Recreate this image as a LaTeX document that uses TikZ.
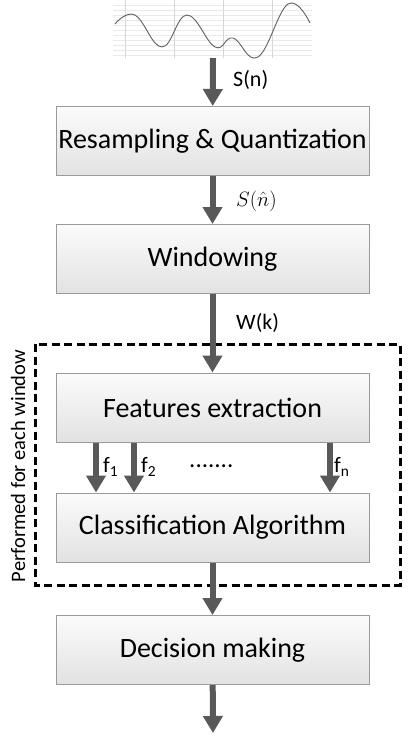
\documentclass[tikz,border=0pt]{standalone}
\usepackage{fontspec}
\setmainfont{Carlito}
\usetikzlibrary{arrows.meta,calc}
\definecolor{flowgray}{HTML}{595959}
\definecolor{boxline}{HTML}{9A9A9A}
\definecolor{boxtop}{HTML}{FBFBFB}
\definecolor{boxbottom}{HTML}{E2E2E2}
\definecolor{gridline}{HTML}{EAEAEA}
\definecolor{gridmajor}{HTML}{D6D6D6}
\definecolor{wave}{HTML}{606060}

\begin{document}
\begin{tikzpicture}[
  x=1pt,
  y=-1pt,
  stage/.style={draw=boxline, line width=1pt, top color=boxtop, bottom color=boxbottom,
    minimum width=313pt, minimum height=69pt, inner sep=0pt,
    font=\fontsize{28}{30}\selectfont},
  flow/.style={draw=flowgray, line width=6pt, -{Triangle[width=19pt,length=17pt]}},
  signal/.style={font=\fontsize{22}{24}\selectfont, anchor=west, inner sep=0pt},
  loopbox/.style={draw=black, line width=3pt, dash pattern=on 8pt off 4.5pt}
]
  \useasboundingbox (0,0) rectangle (408,756);

  % Input signal sketch.
  \foreach \gy in {5,10,...,55}
    \draw[gridline, line width=0.6pt] (113,\gy) -- (312,\gy);
  \foreach \gx in {125,174,223,272}
    \draw[gridmajor, line width=0.8pt] (\gx,0) -- (\gx,58);
  \draw[wave, line width=0.9pt] plot[smooth, tension=0.7] coordinates
    {(115,24) (135,15) (162,47) (187,15) (215,47) (233,38) (258,57) (288,4) (310,23)};
  \coordinate (sig) at (213,58);

  % Processing stages.
  \node[stage] (resample) at (212.5,141) {Resampling \& Quantization};
  \node[stage] (window) at (212.5,259) {Windowing};
  \node[stage] (features) at (212.5,407.5) {Features extraction};
  \node[stage] (classify) at (212.5,527.5) {Classification Algorithm};
  \node[stage] (decision) at (212.5,650) {Decision making};
  \coordinate (out) at (213,733);

  % Per-window loop.
  \draw[loopbox] (35,344) rectangle (400,585);
  \node[rotate=90, font=\fontsize{20.5}{22}\selectfont] (looplabel) at (18,466)
    {Performed for each window};

  % Main flow.
  \draw[flow] (sig) -- (resample);
  \draw[flow] (resample) -- (window);
  \draw[flow] (window) -- (features);
  \draw[flow] (classify) -- (decision);
  \draw[flow] (decision) -- (out);

  % Feature vector.
  \coordinate (f1) at (96,0);
  \coordinate (f2) at (134,0);
  \coordinate (fn) at (330,0);
  \foreach \f in {f1,f2,fn}
    \draw[flow] (features.south -| \f) -- (classify.north -| \f);

  % Signal labels.
  \node[signal] (sn) at (233,80) {S(n)};
  \node[signal] (snhat) at (236,201) {$S(\hat{n})$};
  \node[signal] (wk) at (236,323) {W(k)};
  \node[signal] (lf1) at (103,467) {f\textsubscript{1}};
  \node[signal] (lf2) at (141,467) {f\textsubscript{2}};
  \node[signal, font=\fontsize{25}{26}\selectfont] (ldots) at (189,466) {.......};
  \node[signal] (lfn) at (334,467) {f\textsubscript{n}};

\end{tikzpicture}
\end{document}
